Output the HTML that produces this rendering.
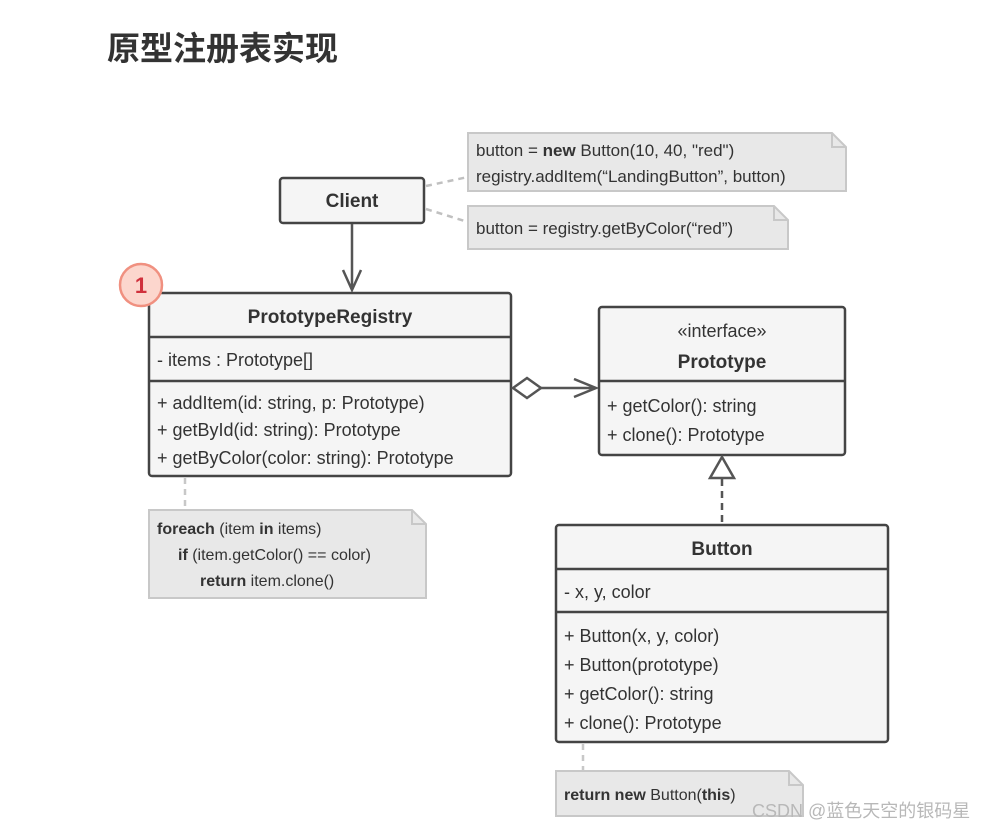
<!DOCTYPE html>
<html><head><meta charset="utf-8"><style>
html,body{margin:0;padding:0;background:#fff;}
svg{display:block;}
text{font-family:"Liberation Sans","Noto Sans CJK SC",sans-serif;fill:#333;}
.b{font-weight:bold;}
</style></head><body>
<svg width="999" height="830" viewBox="0 0 999 830" xmlns="http://www.w3.org/2000/svg">
<text x="107" y="60" font-size="33" class="b" style="font-family:'Noto Sans CJK SC',sans-serif;fill:#333">原型注册表实现</text>

<path d="M468,133 H832 L846,147 V191 H468 Z" fill="#e8e8e8" stroke="#c8c8c8" stroke-width="2"/>
<path d="M832,133 V147 H846" fill="none" stroke="#c8c8c8" stroke-width="2"/>
<text x="476" y="156" font-size="17">button = <tspan class="b">new</tspan> Button(10, 40, "red")</text>
<text x="476" y="182" font-size="17">registry.addItem(“LandingButton”, button)</text>
<path d="M468,206 H774 L788,220 V249 H468 Z" fill="#e8e8e8" stroke="#c8c8c8" stroke-width="2"/>
<path d="M774,206 V220 H788" fill="none" stroke="#c8c8c8" stroke-width="2"/>
<text x="476" y="234" font-size="17">button = registry.getByColor(“red”)</text>
<path d="M426,186 L468,177 M426,209 L468,222" stroke="#c0c0c0" stroke-width="2.5" stroke-dasharray="6,5"/>

<rect x="280" y="178" width="144" height="45" rx="3" fill="#f5f5f5" stroke="#444" stroke-width="2.5"/>
<text x="352" y="207" font-size="19" class="b" text-anchor="middle">Client</text>
<path d="M352,224 V290 M343,270 L352,290 L361,270" fill="none" stroke="#555" stroke-width="2.5"/>

<rect x="149" y="293" width="362" height="183" rx="3" fill="#f5f5f5" stroke="#444" stroke-width="2.5"/>
<path d="M149,337 H511 M149,381 H511" stroke="#444" stroke-width="2.5"/>
<text x="330" y="323" font-size="19" class="b" text-anchor="middle">PrototypeRegistry</text>
<text x="157" y="366" font-size="18">- items : Prototype[]</text>
<text x="157" y="409" font-size="18">+ addItem(id: string, p: Prototype)</text>
<text x="157" y="436" font-size="18">+ getById(id: string): Prototype</text>
<text x="157" y="464" font-size="18">+ getByColor(color: string): Prototype</text>
<circle cx="141" cy="285" r="21" fill="#fcd6cd" stroke="#f09080" stroke-width="2.5"/>
<text x="141" y="293" font-size="22" class="b" text-anchor="middle" style="fill:#d0303c">1</text>

<path d="M513,388 L527,378 L541,388 L527,398 Z" fill="#fff" stroke="#555" stroke-width="2.5"/>
<path d="M541,388 H596 M574,379 L596,388 L574,397" fill="none" stroke="#555" stroke-width="2.5"/>

<rect x="599" y="307" width="246" height="148" rx="3" fill="#f5f5f5" stroke="#444" stroke-width="2.5"/>
<path d="M599,381 H845" stroke="#444" stroke-width="2.5"/>
<text x="722" y="337" font-size="18" text-anchor="middle">«interface»</text>
<text x="722" y="368" font-size="19" class="b" text-anchor="middle">Prototype</text>
<text x="607" y="412" font-size="18">+ getColor(): string</text>
<text x="607" y="441" font-size="18">+ clone(): Prototype</text>

<path d="M722,457 L734,478 L710,478 Z" fill="#fff" stroke="#555" stroke-width="2.5"/>
<path d="M722,479 V524" stroke="#555" stroke-width="2.5" stroke-dasharray="7,5"/>

<rect x="556" y="525" width="332" height="217" rx="3" fill="#f5f5f5" stroke="#444" stroke-width="2.5"/>
<path d="M556,569 H888 M556,612 H888" stroke="#444" stroke-width="2.5"/>
<text x="722" y="555" font-size="19" class="b" text-anchor="middle">Button</text>
<text x="564" y="598" font-size="18">- x, y, color</text>
<text x="564" y="642" font-size="18">+ Button(x, y, color)</text>
<text x="564" y="671" font-size="18">+ Button(prototype)</text>
<text x="564" y="700" font-size="18">+ getColor(): string</text>
<text x="564" y="729" font-size="18">+ clone(): Prototype</text>

<path d="M185,478 V508" stroke="#c8c8c8" stroke-width="2.5" stroke-dasharray="6,5"/>
<path d="M149,510 H412 L426,524 V598 H149 Z" fill="#e8e8e8" stroke="#c8c8c8" stroke-width="2"/>
<path d="M412,510 V524 H426" fill="none" stroke="#c8c8c8" stroke-width="2"/>
<text x="157" y="534" font-size="16"><tspan class="b">foreach</tspan> (item <tspan class="b">in</tspan> items)</text>
<text x="178" y="560" font-size="16"><tspan class="b">if</tspan> (item.getColor() == color)</text>
<text x="200" y="586" font-size="16"><tspan class="b">return</tspan> item.clone()</text>

<path d="M583,744 V770" stroke="#c8c8c8" stroke-width="2.5" stroke-dasharray="6,5"/>
<path d="M556,771 H789 L803,785 V816 H556 Z" fill="#e8e8e8" stroke="#c8c8c8" stroke-width="2"/>
<path d="M789,771 V785 H803" fill="none" stroke="#c8c8c8" stroke-width="2"/>
<text x="564" y="800" font-size="16"><tspan class="b">return new</tspan> Button(<tspan class="b">this</tspan>)</text>

<text x="752" y="817" font-size="18" style="fill:#b8b8b8">CSDN @蓝色天空的银码星</text>
</svg>
</body></html>
